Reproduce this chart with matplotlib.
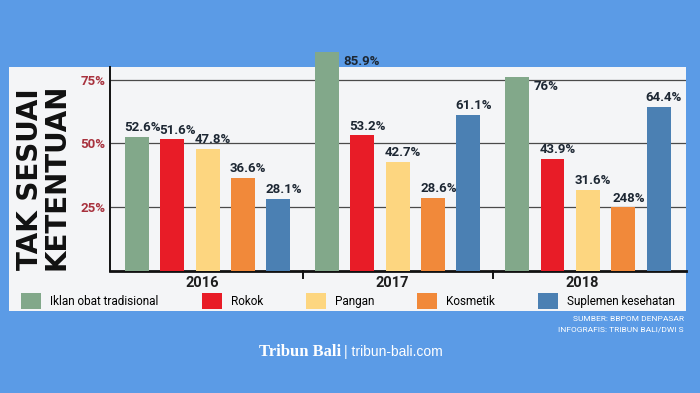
import matplotlib
matplotlib.use('Agg')
import matplotlib.pyplot as plt
from matplotlib.patches import Rectangle
import numpy as np

years = ['2016', '2017', '2018']
categories = ['Iklan obat tradisional', 'Rokok', 'Pangan', 'Kosmetik', 'Suplemen kesehatan']
values = [
    [52.6, 51.6, 47.8, 36.6, 28.1],   # 2016
    [85.9, 53.2, 42.7, 28.6, 61.1],   # 2017
    [76.0, 43.9, 31.6, 24.8, 64.4],   # 2018
]
value_labels = [
    ['52.6%', '51.6%', '47.8%', '36.6%', '28.1%'],
    ['85.9%', '53.2%', '42.7%', '28.6%', '61.1%'],
    ['76%', '43.9%', '31.6%', '248%', '64.4%'],
]
y_ticks = [25, 50, 75]
y_tick_labels = ['25%', '50%', '75%']

colors = ['#82a88a', '#e81c27', '#fdd680', '#f1893a', '#4b80b3']
BG = '#5b9be6'
PANEL = '#f4f5f7'

W, H = 700, 393
fig = plt.figure(figsize=(W / 100, H / 100), dpi=100, facecolor=BG)


def fx(px):
    return px / W


def fy(py):
    return (H - py) / H


# white panel behind the chart
fig.add_artist(Rectangle((fx(9), fy(311)), fx(686) - fx(9), fy(67) - fy(311),
                         transform=fig.transFigure, facecolor=PANEL, edgecolor='none', zorder=0))

ax = fig.add_axes([fx(110), fy(270.5), fx(686) - fx(110), fy(67) - fy(270.5)])
ax.set_facecolor('none')
ax.set_zorder(2)

step = 0.186
width = 0.126
x = np.arange(len(years))
containers = []
for j, cat in enumerate(categories):
    xs = x + (j - 2) * step
    vals = [values[g][j] for g in range(len(years))]
    bc = ax.bar(xs, vals, width, color=colors[j], label=cat, clip_on=False, zorder=3)
    containers.append(bc)
    for g in range(len(years)):
        v = vals[g]
        txt = value_labels[g][j]
        if v > 70:
            ax.text(xs[g] + width / 2 + 0.025, v - 1.0, txt, ha='left', va='top',
                    fontsize=9.5, fontweight='bold', color='#1d2733', family='Roboto', zorder=4)
        else:
            ax.annotate(txt, (xs[g] + 0.028, v), xytext=(0, 2), textcoords='offset points',
                        ha='center', va='bottom', fontsize=9.5, fontweight='bold',
                        color='#1d2733', family='Roboto', zorder=4)

ax.set_xlim(-0.513, 2.516)
ax.set_ylim(0, 80.1)

for yv in y_ticks:
    ax.axhline(yv, color='#4a4a4a', lw=0.9, zorder=1)

ax.set_yticks(y_ticks)
ax.set_yticklabels(y_tick_labels, fontsize=9.5, fontweight='bold', color='#a8323e', family='Roboto')
ax.tick_params(axis='y', length=0, pad=3)

ax.set_xticks(x - 0.03)
ax.set_xticklabels(years, fontsize=10.5, fontweight='bold', color='#1d1d1d', family='Roboto')
ax.tick_params(axis='x', length=0, pad=4)

for s in ['top', 'right']:
    ax.spines[s].set_visible(False)
ax.spines['left'].set_linewidth(1.4)
ax.spines['bottom'].set_linewidth(2)
ax.spines['left'].set_color('#111111')
ax.spines['bottom'].set_color('#111111')

# small separators between the year groups
for sep in x[:-1] + 0.5:
    ax.plot([sep, sep], [0, -3.0], color='#111111', lw=1.4, clip_on=False)

# vertical title
fig.text(fx(16), fy(270), 'TAK SESUAI\nKETENTUAN', rotation=90, ha='left', va='bottom',
         fontsize=20, fontweight='bold', color='#111111', linespacing=0.95,
         family='DejaVu Sans')

# legend
leg = fig.legend(handles=containers, labels=categories, loc='center left',
                 bbox_to_anchor=(fx(21), fy(301)), ncol=5, frameon=False,
                 prop={'family': 'Roboto', 'size': 8.5},
                 handlelength=1.7, handleheight=1.7, handletextpad=0.76,
                 columnspacing=3.65, borderaxespad=0, borderpad=0)

# footer
fig.text(fx(684), fy(319), 'SUMBER: BBPOM DENPASAR', ha='right', va='center',
         fontsize=6, color='white', family='Roboto')
fig.text(fx(684), fy(329), 'INFOGRAFIS: TRIBUN BALI/DWI S', ha='right', va='center',
         fontsize=6, color='white', family='Roboto')
fig.text(fx(341), fy(352), 'Tribun Bali', ha='right', va='center', fontsize=12,
         fontweight='bold', color='white', family='Liberation Serif')
fig.text(fx(344), fy(352), '| tribun-bali.com', ha='left', va='center', fontsize=10,
         color='white', family='Liberation Sans')

fig.savefig('out.png', dpi=100, facecolor=BG)
